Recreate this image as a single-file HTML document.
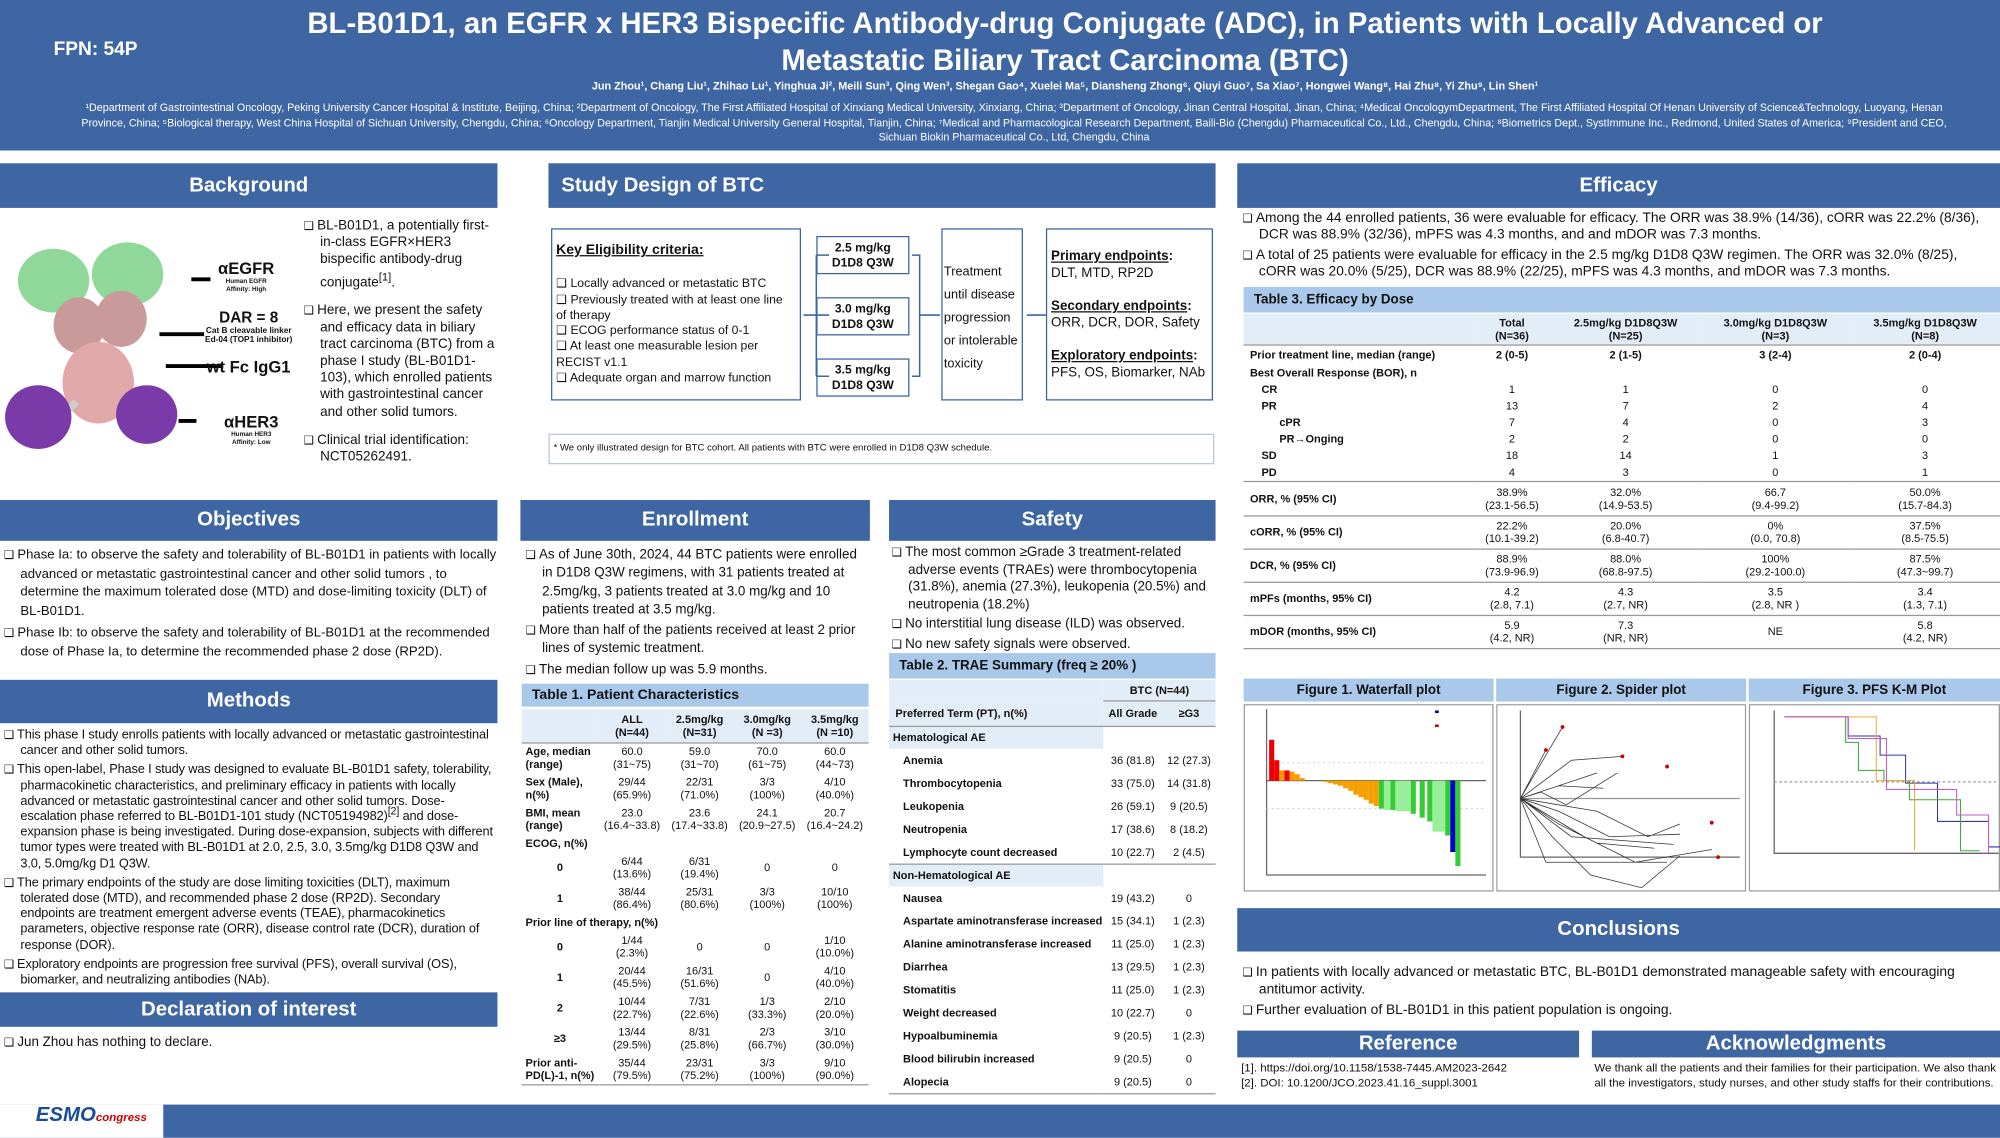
<!DOCTYPE html>
<html><head><meta charset="utf-8"><style>
*{margin:0;padding:0;box-sizing:border-box}
html,body{width:2000px;height:1138px;overflow:hidden;background:#fff}
#w{position:absolute;left:0;top:0;width:1568px;height:892px;transform:scale(1.27551);transform-origin:0 0;font-family:"Liberation Sans",Arial,sans-serif;color:#111}
.a{position:absolute}
.hd{position:absolute;background:#3e66a3;color:#fff;font-weight:bold;text-align:center;font-size:16px}
.lb{background:#a9c8ea}
.t{font-size:10.5px;line-height:14.5px}
.t p{padding-left:13px;text-indent:-13px;margin-bottom:2px}
.t p:before{content:"❑ ";font-size:9px}
table{border-collapse:collapse;font-size:8.6px}
td{text-align:center;line-height:10px}
.bx{position:absolute;border:1.5px solid #3e66a3;background:#fff}
</style></head><body><div id="w">
<div class="a" style="left:0;top:0;width:1568px;height:118px;background:#3e66a3"></div>
<div class="a" style="left:42px;top:30px;color:#fff;font-weight:bold;font-size:15px">FPN: 54P</div>
<div class="a" style="left:150px;top:4px;width:1370px;text-align:center;color:#fff;font-weight:bold;font-size:23px;line-height:29px">BL-B01D1, an EGFR x HER3 Bispecific Antibody-drug Conjugate (ADC), in Patients with Locally Advanced or<br>Metastatic Biliary Tract Carcinoma (BTC)</div>
<div class="a" style="left:150px;top:62px;width:1370px;text-align:center;color:#fff;font-weight:bold;font-size:8.5px">Jun Zhou¹, Chang Liu¹, Zhihao Lu¹, Yinghua Ji², Meili Sun³, Qing Wen³, Shegan Gao⁴, Xuelei Ma⁵, Diansheng Zhong⁶, Qiuyi Guo⁷, Sa Xiao⁷, Hongwei Wang⁸, Hai Zhu⁸, Yi Zhu⁹, Lin Shen¹</div>
<div class="a" style="left:60px;top:79px;width:1470px;text-align:center;color:#fff;font-size:8.4px;line-height:11.5px">¹Department of Gastrointestinal Oncology, Peking University Cancer Hospital &amp; Institute, Beijing, China; ²Department of Oncology, The First Affiliated Hospital of Xinxiang Medical University, Xinxiang, China; ³Department of Oncology, Jinan Central Hospital, Jinan, China; ⁴Medical OncologymDepartment, The First Affiliated Hospital Of Henan University of Science&amp;Technology, Luoyang, Henan Province, China; ⁵Biological therapy, West China Hospital of Sichuan University, Chengdu, China; ⁶Oncology Department, Tianjin Medical University General Hospital, Tianjin, China; ⁷Medical and Pharmacological Research Department, Baili-Bio (Chengdu) Pharmaceutical Co., Ltd., Chengdu, China; ⁸Biometrics Dept., SystImmune Inc., Redmond, United States of America; ⁹President and CEO, Sichuan Biokin Pharmaceutical Co., Ltd, Chengdu, China</div>

<div class="hd" style="left:0;top:128px;width:390px;height:35px;line-height:35px">Background</div>
<div class="hd" style="left:430px;top:128px;width:523px;height:35px;line-height:35px;text-align:left;padding-left:10px">Study Design of BTC</div>
<div class="hd" style="left:970px;top:128px;width:598px;height:35px;line-height:35px">Efficacy</div>

<svg class="a" style="left:0;top:185px" width="240" height="185">
<ellipse cx="42" cy="35" rx="28" ry="25" fill="#8fd89a"/><ellipse cx="100" cy="30" rx="28" ry="25" fill="#8fd89a"/>
<ellipse cx="62" cy="70" rx="20" ry="22" fill="#c99a9a"/><ellipse cx="95" cy="65" rx="20" ry="22" fill="#c99a9a"/>
<ellipse cx="77" cy="115" rx="28" ry="32" fill="#e0a8a8"/>
<path d="M60 130 C40 150 30 150 20 140" stroke="#ccc" stroke-width="6" fill="none"/>
<ellipse cx="30" cy="142" rx="26" ry="25" fill="#7a3aa8"/><ellipse cx="115" cy="140" rx="24" ry="23" fill="#7a3aa8"/>
<path d="M150 34h15M125 77h35M130 102h45M140 145h14" stroke="#000" stroke-width="3"/>
</svg>
<div class="a" style="left:168px;top:203px;font-weight:bold;font-size:13px;text-align:center;width:50px">αEGFR<div style="font-size:5px">Human EGFR<br>Affinity: High</div></div>
<div class="a" style="left:150px;top:242px;font-weight:bold;font-size:12px;text-align:center;width:90px">DAR = 8<div style="font-size:6.5px">Cat B cleavable linker<br>Ed-04 (TOP1 inhibitor)</div></div>
<div class="a" style="left:162px;top:280px;font-weight:bold;font-size:13px">wt Fc IgG1</div>
<div class="a" style="left:172px;top:323px;font-weight:bold;font-size:13px;text-align:center;width:50px">αHER3<div style="font-size:5px">Human HER3<br>Affinity: Low</div></div>
<div class="a t" style="left:238px;top:171px;width:150px;font-size:10.6px;line-height:13.2px">
<p>BL-B01D1, a potentially first-in-class EGFR×HER3 bispecific antibody-drug conjugate<sup>[1]</sup>.</p><p style="margin-top:9px">Here, we present the safety and efficacy data in biliary tract carcinoma (BTC) from a phase I study (BL-B01D1-103), which enrolled patients with gastrointestinal cancer and other solid tumors.</p><p style="margin-top:9px">Clinical trial identification: NCT05262491.</p></div>

<div class="bx" style="left:432px;top:179px;width:196px;height:135px;padding:10px 3px;font-size:9.6px;line-height:12.3px">
<div style="font-weight:bold;text-decoration:underline;font-size:11px;margin-bottom:15px">Key Eligibility criteria:</div>
<div>❑ Locally advanced or metastatic BTC</div><div>❑ Previously treated with at least one line of therapy</div><div>❑ ECOG performance status of 0-1</div><div>❑ At least one measurable lesion per RECIST v1.1</div><div>❑ Adequate organ and marrow function</div></div>
<div class="bx" style="left:640px;top:185px;width:73px;height:30px;font-size:9.5px;font-weight:bold;text-align:center;line-height:12px;padding-top:3px">2.5 mg/kg<br>D1D8 Q3W</div>
<div class="bx" style="left:640px;top:233px;width:73px;height:30px;font-size:9.5px;font-weight:bold;text-align:center;line-height:12px;padding-top:3px">3.0 mg/kg<br>D1D8 Q3W</div>
<div class="bx" style="left:640px;top:281px;width:73px;height:30px;font-size:9.5px;font-weight:bold;text-align:center;line-height:12px;padding-top:3px">3.5 mg/kg<br>D1D8 Q3W</div>
<div class="bx" style="left:738px;top:179px;width:64px;height:135px;font-size:10px;line-height:18px;padding:25px 1px">Treatment until disease progression or intolerable toxicity</div>
<div class="bx" style="left:820px;top:179px;width:131px;height:135px;font-size:10.5px;line-height:13px;padding:15px 3px">
<b><u>Primary endpoints</u>:</b><br>DLT, MTD, RP2D<br><br><b><u>Secondary endpoints</u>:</b><br>ORR, DCR, DOR, Safety<br><br><b><u>Exploratory endpoints</u>:</b><br>PFS, OS, Biomarker, NAb</div>
<svg class="a" style="left:628px;top:190px" width="192" height="120"><path d="M2 57h10M12 10v95M12 10h10M12 57h10M12 105h10M87 10h6v95h-6M93 57h16M177 57h15" stroke="#3e66a3" stroke-width="1.2" fill="none"/></svg>
<div class="bx" style="left:430px;top:340px;width:522px;height:24px;border-width:1px;border-color:#b8c8dc;font-size:7.5px;padding:5px 3px">* We only illustrated design for BTC cohort. All patients with BTC were enrolled in D1D8 Q3W schedule.</div>

<div class="hd" style="left:0;top:392px;width:390px;height:32px;line-height:32px">Objectives</div>
<div class="hd" style="left:408px;top:392px;width:274px;height:32px;line-height:32px">Enrollment</div>
<div class="hd" style="left:697px;top:392px;width:256px;height:32px;line-height:32px">Safety</div>
<div class="a t" style="left:3px;top:428px;width:387px;font-size:10.3px">
<p>Phase Ia: to observe the safety and tolerability of BL-B01D1 in patients with locally advanced or metastatic gastrointestinal cancer and other solid tumors , to determine the maximum tolerated dose (MTD) and dose-limiting toxicity (DLT) of BL-B01D1.</p>
<p>Phase Ib: to observe the safety and tolerability of BL-B01D1 at the recommended dose of Phase Ia, to determine the recommended phase 2 dose (RP2D).</p></div>
<div class="a t" style="left:412px;top:428px;width:270px;font-size:10.5px;line-height:14.3px">
<p>As of June 30th, 2024, 44 BTC patients were enrolled in D1D8 Q3W regimens, with 31 patients treated at 2.5mg/kg, 3 patients treated at 3.0 mg/kg and 10 patients treated at 3.5 mg/kg.</p><p>More than half of the patients received at least 2 prior lines of systemic treatment.</p><p>The median follow up was 5.9 months.</p></div>
<div class="a t" style="left:699px;top:427px;width:254px;font-size:10.5px;line-height:13.5px">
<p>The most common ≥Grade 3 treatment-related adverse events (TRAEs) were thrombocytopenia (31.8%), anemia (27.3%), leukopenia (20.5%) and neutropenia (18.2%)</p><p>No interstitial lung disease (ILD) was observed.</p><p>No new safety signals were observed.</p></div>

<div class="hd" style="left:0;top:533px;width:390px;height:34px;line-height:34px">Methods</div>
<div class="a t" style="left:3px;top:570px;width:387px;font-size:10px;line-height:12.2px;letter-spacing:-0.1px">
<p>This phase I study enrolls patients with locally advanced or metastatic gastrointestinal cancer and other solid tumors.</p>
<p>This open-label, Phase I study was designed to evaluate BL-B01D1 safety, tolerability, pharmacokinetic characteristics, and preliminary efficacy in patients with locally advanced or metastatic gastrointestinal cancer and other solid tumors. Dose-escalation phase referred to BL-B01D1-101 study (NCT05194982)<sup style="line-height:0">[2]</sup> and dose-expansion phase is being investigated. During dose-expansion, subjects with different tumor types were treated with BL-B01D1 at 2.0, 2.5, 3.0, 3.5mg/kg D1D8 Q3W and 3.0, 5.0mg/kg D1 Q3W.</p>
<p>The primary endpoints of the study are dose limiting toxicities (DLT), maximum tolerated dose (MTD), and recommended phase 2 dose (RP2D). Secondary endpoints are treatment emergent adverse events (TEAE), pharmacokinetics parameters, objective response rate (ORR), disease control rate (DCR), duration of response (DOR).</p>
<p>Exploratory endpoints are progression free survival (PFS), overall survival (OS), biomarker, and neutralizing antibodies (NAb).</p></div>
<div class="hd" style="left:0;top:778px;width:390px;height:27px;line-height:27px">Declaration of interest</div>
<div class="a t" style="left:3px;top:810px"><p>Jun Zhou has nothing to declare.</p></div>

<div class="a lb" style="left:409px;top:536px;width:272px;height:18px;font-weight:bold;font-size:11px;padding:3px 8px">Table 1. Patient Characteristics</div>
<table class="a" style="left:409px;top:556px;width:272px">
<tr style="font-weight:bold;background:#e3edf8;border-bottom:1px solid #999;height:26px"><td style="width:60px"></td><td>ALL<br>(N=44)</td><td>2.5mg/kg<br>(N=31)</td><td>3.0mg/kg<br>(N =3)</td><td>3.5mg/kg<br>(N =10)</td></tr>
<tr style="height:24px"><td style="text-align:left;font-weight:bold;padding-left:3px">Age, median (range)</td><td>60.0<br>(31~75)</td><td>59.0<br>(31~70)</td><td>70.0<br>(61~75)</td><td>60.0<br>(44~73)</td></tr>
<tr style="height:24px"><td style="text-align:left;font-weight:bold;padding-left:3px">Sex (Male), n(%)</td><td>29/44<br>(65.9%)</td><td>22/31<br>(71.0%)</td><td>3/3<br>(100%)</td><td>4/10<br>(40.0%)</td></tr>
<tr style="height:24px"><td style="text-align:left;font-weight:bold;padding-left:3px">BMI, mean (range)</td><td>23.0<br>(16.4~33.8)</td><td>23.6<br>(17.4~33.8)</td><td>24.1<br>(20.9~27.5)</td><td>20.7<br>(16.4~24.2)</td></tr>
<tr style="height:14px"><td colspan="5" style="text-align:left;font-weight:bold;padding-left:3px">ECOG, n(%)</td></tr>
<tr style="height:24px"><td style="font-weight:bold">0</td><td>6/44<br>(13.6%)</td><td>6/31<br>(19.4%)</td><td>0</td><td>0</td></tr>
<tr style="height:24px"><td style="font-weight:bold">1</td><td>38/44<br>(86.4%)</td><td>25/31<br>(80.6%)</td><td>3/3<br>(100%)</td><td>10/10<br>(100%)</td></tr>
<tr style="height:14px"><td colspan="5" style="text-align:left;font-weight:bold;padding-left:3px">Prior line of therapy, n(%)</td></tr>
<tr style="height:24px"><td style="font-weight:bold">0</td><td>1/44<br>(2.3%)</td><td>0</td><td>0</td><td>1/10<br>(10.0%)</td></tr>
<tr style="height:24px"><td style="font-weight:bold">1</td><td>20/44<br>(45.5%)</td><td>16/31<br>(51.6%)</td><td>0</td><td>4/10<br>(40.0%)</td></tr>
<tr style="height:24px"><td style="font-weight:bold">2</td><td>10/44<br>(22.7%)</td><td>7/31<br>(22.6%)</td><td>1/3<br>(33.3%)</td><td>2/10<br>(20.0%)</td></tr>
<tr style="height:24px"><td style="font-weight:bold">≥3</td><td>13/44<br>(29.5%)</td><td>8/31<br>(25.8%)</td><td>2/3<br>(66.7%)</td><td>3/10<br>(30.0%)</td></tr>
<tr style="height:24px;border-bottom:1px solid #999"><td style="text-align:left;font-weight:bold;padding-left:3px">Prior anti-PD(L)-1, n(%)</td><td>35/44<br>(79.5%)</td><td>23/31<br>(75.2%)</td><td>3/3<br>(100%)</td><td>9/10<br>(90.0%)</td></tr>
</table>

<div class="a lb" style="left:697px;top:512px;width:256px;height:20px;font-weight:bold;font-size:10.5px;padding:4px 8px">Table 2. TRAE Summary (freq ≥ 20% )</div>
<table class="a" style="left:697px;top:533px;width:256px">
<tr style="height:16px"><td style="background:#e3edf8"></td><td colspan="2" style="font-weight:bold;border-bottom:1px solid #999;background:#e3edf8">BTC (N=44)</td></tr>
<tr style="height:20px;font-weight:bold;border-bottom:1px solid #999;background:#e3edf8"><td style="text-align:left;padding-left:5px;width:168px">Preferred Term (PT), n(%)</td><td>All Grade</td><td>≥G3</td></tr>
<tr style="height:18px"><td style="text-align:left;font-weight:bold;padding-left:3px;background:#e3edf8">Hematological AE</td><td></td><td></td></tr>
<tr style="height:18px"><td style="text-align:left;font-weight:bold;padding-left:11px">Anemia</td><td>36 (81.8)</td><td>12 (27.3)</td></tr>
<tr style="height:18px"><td style="text-align:left;font-weight:bold;padding-left:11px">Thrombocytopenia</td><td>33 (75.0)</td><td>14 (31.8)</td></tr>
<tr style="height:18px"><td style="text-align:left;font-weight:bold;padding-left:11px">Leukopenia</td><td>26 (59.1)</td><td>9 (20.5)</td></tr>
<tr style="height:18px"><td style="text-align:left;font-weight:bold;padding-left:11px">Neutropenia</td><td>17 (38.6)</td><td>8 (18.2)</td></tr>
<tr style="height:18px;border-bottom:1px solid #999"><td style="text-align:left;font-weight:bold;padding-left:11px">Lymphocyte count decreased</td><td>10 (22.7)</td><td>2 (4.5)</td></tr>
<tr style="height:18px"><td style="text-align:left;font-weight:bold;padding-left:3px;background:#e3edf8">Non-Hematological AE</td><td></td><td></td></tr>
<tr style="height:18px"><td style="text-align:left;font-weight:bold;padding-left:11px">Nausea</td><td>19 (43.2)</td><td>0</td></tr>
<tr style="height:18px"><td style="text-align:left;font-weight:bold;padding-left:11px">Aspartate aminotransferase increased</td><td>15 (34.1)</td><td>1 (2.3)</td></tr>
<tr style="height:18px"><td style="text-align:left;font-weight:bold;padding-left:11px">Alanine aminotransferase increased</td><td>11 (25.0)</td><td>1 (2.3)</td></tr>
<tr style="height:18px"><td style="text-align:left;font-weight:bold;padding-left:11px">Diarrhea</td><td>13 (29.5)</td><td>1 (2.3)</td></tr>
<tr style="height:18px"><td style="text-align:left;font-weight:bold;padding-left:11px">Stomatitis</td><td>11 (25.0)</td><td>1 (2.3)</td></tr>
<tr style="height:18px"><td style="text-align:left;font-weight:bold;padding-left:11px">Weight decreased</td><td>10 (22.7)</td><td>0</td></tr>
<tr style="height:18px"><td style="text-align:left;font-weight:bold;padding-left:11px">Hypoalbuminemia</td><td>9 (20.5)</td><td>1 (2.3)</td></tr>
<tr style="height:18px"><td style="text-align:left;font-weight:bold;padding-left:11px">Blood bilirubin increased</td><td>9 (20.5)</td><td>0</td></tr>
<tr style="height:18px;border-bottom:1px solid #999"><td style="text-align:left;font-weight:bold;padding-left:11px">Alopecia</td><td>9 (20.5)</td><td>0</td></tr>
</table>

<div class="a t" style="left:974px;top:165px;width:590px;font-size:10.8px;line-height:13.3px">
<p>Among the 44 enrolled patients, 36 were evaluable for efficacy. The ORR was 38.9% (14/36), cORR was 22.2% (8/36), DCR was 88.9% (32/36), mPFS was 4.3 months, and and mDOR was 7.3 months.</p>
<p>A total of 25 patients were evaluable for efficacy in the 2.5 mg/kg D1D8 Q3W regimen. The ORR was 32.0% (8/25), cORR was 20.0% (5/25), DCR was 88.9% (22/25), mPFS was 4.3 months, and mDOR was 7.3 months.</p></div>
<div class="a lb" style="left:975px;top:225px;width:593px;height:20px;font-weight:bold;font-size:10.5px;padding:4px 8px">Table 3. Efficacy by Dose</div>
<table class="a" style="left:975px;top:246px;width:593px">
<tr style="height:24px;font-weight:bold;background:#e3edf8;border-bottom:1px solid #999"><td style="width:180px"></td><td>Total<br>(N=36)</td><td>2.5mg/kg D1D8Q3W<br>(N=25)</td><td>3.0mg/kg D1D8Q3W<br>(N=3)</td><td>3.5mg/kg D1D8Q3W<br>(N=8)</td></tr>
<tr style="height:15px;font-weight:bold"><td style="text-align:left;padding-left:5px">Prior treatment line, median (range)</td><td>2 (0-5)</td><td>2 (1-5)</td><td>3 (2-4)</td><td>2 (0-4)</td></tr>
<tr style="height:13px"><td style="text-align:left;padding-left:5px;font-weight:bold">Best Overall Response (BOR), n</td><td></td><td></td><td></td><td></td></tr>
<tr style="height:13px"><td style="text-align:left;padding-left:14px;font-weight:bold">CR</td><td>1</td><td>1</td><td>0</td><td>0</td></tr>
<tr style="height:13px"><td style="text-align:left;padding-left:14px;font-weight:bold">PR</td><td>13</td><td>7</td><td>2</td><td>4</td></tr>
<tr style="height:13px"><td style="text-align:left;padding-left:28px;font-weight:bold">cPR</td><td>7</td><td>4</td><td>0</td><td>3</td></tr>
<tr style="height:13px"><td style="text-align:left;padding-left:28px;font-weight:bold">PR→Onging</td><td>2</td><td>2</td><td>0</td><td>0</td></tr>
<tr style="height:13px"><td style="text-align:left;padding-left:14px;font-weight:bold">SD</td><td>18</td><td>14</td><td>1</td><td>3</td></tr>
<tr style="height:14px;border-bottom:1px solid #999"><td style="text-align:left;padding-left:14px;font-weight:bold">PD</td><td>4</td><td>3</td><td>0</td><td>1</td></tr>
<tr style="height:27px;border-bottom:1px solid #999"><td style="text-align:left;padding-left:5px;font-weight:bold">ORR, % (95% CI)</td><td>38.9%<br>(23.1-56.5)</td><td>32.0%<br>(14.9-53.5)</td><td>66.7<br>(9.4-99.2)</td><td>50.0%<br>(15.7-84.3)</td></tr>
<tr style="height:26px;border-bottom:1px solid #999"><td style="text-align:left;padding-left:5px;font-weight:bold">cORR, % (95% CI)</td><td>22.2%<br>(10.1-39.2)</td><td>20.0%<br>(6.8-40.7)</td><td>0%<br>(0.0, 70.8)</td><td>37.5%<br>(8.5-75.5)</td></tr>
<tr style="height:26px;border-bottom:1px solid #999"><td style="text-align:left;padding-left:5px;font-weight:bold">DCR, % (95% CI)</td><td>88.9%<br>(73.9-96.9)</td><td>88.0%<br>(68.8-97.5)</td><td>100%<br>(29.2-100.0)</td><td>87.5%<br>(47.3~99.7)</td></tr>
<tr style="height:26px;border-bottom:1px solid #999"><td style="text-align:left;padding-left:5px;font-weight:bold">mPFs (months, 95% CI)</td><td>4.2<br>(2.8, 7.1)</td><td>4.3<br>(2.7, NR)</td><td>3.5<br>(2.8, NR )</td><td>3.4<br>(1.3, 7.1)</td></tr>
<tr style="height:26px;border-bottom:1px solid #999"><td style="text-align:left;padding-left:5px;font-weight:bold">mDOR (months, 95% CI)</td><td>5.9<br>(4.2, NR)</td><td>7.3<br>(NR, NR)</td><td>NE</td><td>5.8<br>(4.2, NR)</td></tr>
</table>

<div class="a lb" style="left:975px;top:532px;width:196px;height:18px;font-weight:bold;font-size:10.5px;text-align:center;padding-top:3px">Figure 1. Waterfall plot</div>
<div class="a lb" style="left:1173px;top:532px;width:196px;height:18px;font-weight:bold;font-size:10.5px;text-align:center;padding-top:3px">Figure 2. Spider plot</div>
<div class="a lb" style="left:1371px;top:532px;width:197px;height:18px;font-weight:bold;font-size:10.5px;text-align:center;padding-top:3px">Figure 3. PFS K-M Plot</div>
<svg class="a" style="left:975px;top:552px" width="196" height="147"><rect x="0.5" y="0.5" width="195" height="146" fill="#fff" stroke="#999"/>
<path d="M18 4v130h172" stroke="#666" fill="none"/><line x1="18" y1="60" x2="190" y2="60" stroke="#666"/><line x1="18" y1="82" x2="190" y2="82" stroke="#ddd" stroke-dasharray="2"/><line x1="18" y1="46" x2="190" y2="46" stroke="#ddd" stroke-dasharray="2"/>
<g fill="#00c"><rect x="150" y="5" width="3" height="2"/></g><g fill="#c00"><rect x="150" y="16" width="3" height="2"/></g>
<rect x="20" y="28" width="4" height="32" fill="#e00"/><rect x="24" y="44" width="4" height="16" fill="#e00"/><rect x="28" y="52" width="4" height="8" fill="#f90"/><rect x="32" y="52" width="4" height="8" fill="#e00"/><rect x="36" y="53" width="4" height="7" fill="#f90"/><rect x="40" y="55" width="4" height="5" fill="#f90"/><rect x="44" y="58" width="4" height="2" fill="#f90"/>
<g fill="#f5a000"><rect x="62" y="60" width="4" height="1"/><rect x="66" y="60" width="4" height="2"/><rect x="70" y="60" width="4" height="3"/><rect x="74" y="60" width="4" height="4"/><rect x="78" y="60" width="4" height="6"/><rect x="82" y="60" width="4" height="8"/><rect x="86" y="60" width="4" height="11"/><rect x="90" y="60" width="4" height="13"/><rect x="94" y="60" width="4" height="15"/><rect x="98" y="60" width="4" height="18"/><rect x="102" y="60" width="4" height="20"/></g>
<g fill="#3c3"><rect x="106" y="60" width="4" height="22"/><rect x="115" y="60" width="4" height="23"/><rect x="131" y="60" width="4" height="26"/><rect x="138" y="60" width="4" height="29"/><rect x="144" y="60" width="4" height="32"/><rect x="158" y="60" width="4" height="43"/></g>
<g fill="#9e9"><rect x="110" y="60" width="5" height="23"/><rect x="119" y="60" width="12" height="24"/><rect x="148" y="60" width="10" height="40"/></g>
<rect x="162" y="60" width="4" height="56" fill="#00c"/><rect x="166" y="60" width="4" height="67" fill="#3c3"/></svg>
<svg class="a" style="left:1173px;top:552px" width="196" height="147"><rect x="0.5" y="0.5" width="195" height="146" fill="#fff" stroke="#999"/>
<path d="M19 5v115h172" stroke="#666" fill="none"/><line x1="19" y1="74" x2="191" y2="74" stroke="#999"/>
<g stroke="#333" stroke-width="0.6" fill="none"><path d="M19 74l33-56M19 74l20-38M19 74l40-30 40-3M19 74l30 10 40 20 55 -2M19 74l25 30 30 30 40 10 30-25M19 74l20 50 55 0 40 0M19 74l50 30 40 20 60-10M19 74l60 10 40 20 25-10M19 74l40 30 80 6M19 74l30-10 35 2M19 74l60-20M19 74l16-5 20 10 40-25M19 74l30 20 30 15 45 4"/></g>
<g fill="#c00"><circle cx="52" cy="18" r="1.5"/><circle cx="39" cy="36" r="1.5"/><circle cx="99" cy="41" r="1.5"/><circle cx="174" cy="120" r="1.5"/><circle cx="134" cy="49" r="1.5"/><circle cx="169" cy="93" r="1.5"/></g></svg>
<svg class="a" style="left:1371px;top:552px" width="197" height="147"><rect x="0.5" y="0.5" width="196" height="146" fill="#fff" stroke="#999"/>
<path d="M20 5v112h176" stroke="#666" fill="none"/><line x1="20" y1="61" x2="196" y2="61" stroke="#999" stroke-dasharray="2"/>
<g fill="none" stroke-width="0.8"><path d="M28 10h50v15h25v15h20v22h25v30h40v20h10" stroke="#33a"/><path d="M28 10h48v20h10v22h20v8h20v15h40v40h15" stroke="#3a3"/><path d="M28 10h72v50h30v55" stroke="#ea3"/><path d="M28 10h50v17h30v40h55v20h25v30" stroke="#c5c"/></g></svg>

<div class="hd" style="left:970px;top:712px;width:598px;height:34px;line-height:34px">Conclusions</div>
<div class="a t" style="left:974px;top:756px;width:590px;font-size:10.8px;line-height:13.5px">
<p>In patients with locally advanced or metastatic BTC, BL-B01D1 demonstrated manageable safety with encouraging antitumor activity.</p><p style="margin-top:3px">Further evaluation of BL-B01D1 in this patient population is ongoing.</p></div>
<div class="hd" style="left:970px;top:808px;width:268px;height:21px;line-height:21px">Reference</div>
<div class="hd" style="left:1248px;top:808px;width:320px;height:21px;line-height:21px">Acknowledgments</div>
<div class="a" style="left:973px;top:831px;font-size:9px;line-height:12px">[1]. https://doi.org/10.1158/1538-7445.AM2023-2642<br>[2]. DOI: 10.1200/JCO.2023.41.16_suppl.3001</div>
<div class="a" style="left:1250px;top:831px;width:318px;font-size:9px;line-height:12px">We thank all the patients and their families for their participation. We also thank all the investigators, study nurses, and other study staffs for their contributions.</div>

<div class="a" style="left:0;top:866px;width:1568px;height:26px;background:#3e66a3"></div>
<div class="a" style="left:0;top:866px;width:128px;height:26px;background:#fff;font-weight:bold;font-style:italic;color:#1a4c9a;font-size:16px;padding-left:28px">ESMO<span style="font-size:9px;color:#c00">congress</span></div>
</div></body></html>
